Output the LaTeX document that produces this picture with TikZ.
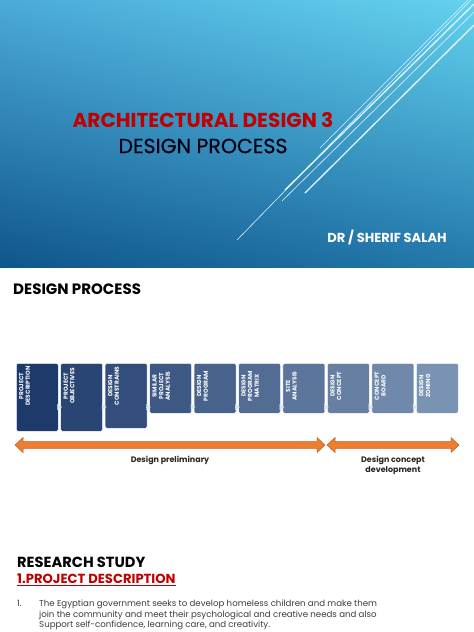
\documentclass[tikz,border=0pt]{standalone}
\usepackage{fontspec}
\setmainfont{Poppins}
\newfontfamily\medfont[FakeBold=0.6]{Poppins}
\usetikzlibrary{calc,arrows.meta,shadings}
\definecolor{tlc}{HTML}{4BAAD7}
\definecolor{trc}{HTML}{64D2F0}
\definecolor{blc}{HTML}{0F558C}
\definecolor{brc}{HTML}{2378AA}
\definecolor{tred}{HTML}{C00000}
\definecolor{boxA}{HTML}{1E3A6B}
\definecolor{boxB}{HTML}{7A93B3}
\definecolor{tricol}{HTML}{DCE3EB}
\definecolor{aorange}{HTML}{ED7D31}
\definecolor{aedge}{HTML}{C0631F}
\definecolor{bodygray}{HTML}{3C3C3C}
\tikzset{
  stepbox/.style={rectangle, rounded corners=1.5bp, draw=white, line width=0.5bp,
    minimum width=42bp, anchor=north west, inner sep=0pt},
  boxtext/.style={rotate=90, anchor=north, align=center, text=white,
    font=\fontsize{5.9}{6.6}\selectfont\bfseries},
  conn/.style={draw=tricol, line width=0.3bp, shorten >=-1.5bp,
    -{Triangle[width=6bp,length=4.5bp]}},
  dlinethin/.style={draw=white!85!cyan, line width=0.6bp, line cap=round},
  dlinethick/.style={draw=white!88!cyan, line width=1.3bp, line cap=round},
  bigarrow/.style={fill=aorange, draw=aedge, line width=0.5bp, line join=miter},
  lbl/.style={font=\fontsize{8}{10}\selectfont\bfseries, text=black!85, align=center},
  bodyline/.style={anchor=base west, text=bodygray, font=\fontsize{8.65}{10}\selectfont},
}
\begin{document}
\begin{tikzpicture}[x=1bp,y=-1bp, every node/.append style={inner sep=0pt}]
\useasboundingbox (0,0) rectangle (474,632);
\fill[white] (0,0) rectangle (474,632);
% top slide
\shade[upper left=tlc, upper right=trc, lower left=blc, lower right=brc] (0,0) rectangle (474,267);
\draw[dlinethin] (237,240) -- (471,0);
\draw[dlinethick] (285,190) -- (474,4);
\draw[dlinethin] (282,201) -- (474,12);
\draw[dlinethick] (305,193) -- (474,25);
\draw[dlinethin] (320,148) -- (468,0);
\node[text=tred, font=\fontsize{20.2}{22}\selectfont\bfseries] (t1) at (203,120) {ARCHITECTURAL DESIGN 3};
\node[text=black!92!blue, font=\fontsize{20.6}{22}\selectfont\medfont] (t2) at (203,146) {DESIGN PROCESS};
\node[text=white, font=\fontsize{13.1}{15}\selectfont\bfseries] (t3) at (387,238) {DR / SHERIF SALAH};
% section header
\node[anchor=west, text=black, font=\fontsize{15.1}{17}\selectfont\bfseries] (h1) at (13,289) {DESIGN PROCESS};
% boxes
\coordinate (ty) at (0,386);
\coordinate (ry) at (0,407);
\foreach \i/\h/\t in {0/68/{PROJECT\\DESCRIPTION},1/68/{PROJECT\\OBJECTIVES},2/65/{DESIGN\\CONSTRAINS},3/50/{SIMILAR\\PROJECT\\ANALYSIS},4/50/{DESIGN\\PROGRAM},5/50/{DESIGN\\PROGRAM\\MATRIX},6/50/{SITE\\ANALYSIS},7/50/{DESIGN\\CONCEPT},8/50/{CONCEPT\\BOARD},9/50/{DESIGN\\ZONING}}{
  \pgfmathsetmacro\bx{16+44.45*\i}
  \pgfmathtruncatemacro\p{100-\i*100/9}
  \node[stepbox, fill=boxA!\p!boxB, minimum height=\h bp] (b\i) at (\bx,363) {};
  \node[boxtext] (bt\i) at ([xshift=3bp]b\i.west |- ty) {\t};
}
\foreach \i in {0,...,8}{
  \pgfmathtruncatemacro\j{\i+1}
  \draw[conn] (b\i.east |- ry) -- (b\j.west |- ry);
}
% orange double arrows
\draw[bigarrow] (15,445) -- (23,437.5) -- (23,441.7) -- (317,441.7) -- (317,437.5) -- (325,445)
  -- (317,452.5) -- (317,448.3) -- (23,448.3) -- (23,452.5) -- cycle;
\draw[bigarrow] (327,445) -- (335,437.5) -- (335,441.7) -- (451,441.7) -- (451,437.5) -- (459,445)
  -- (451,452.5) -- (451,448.3) -- (335,448.3) -- (335,452.5) -- cycle;
\node[lbl] (pre) at (170,460) {Design preliminary};
\node[lbl] (dev) at (393,465.5) {Design concept\\development};
% research study
\node[anchor=west, text=black, font=\fontsize{14.7}{17}\selectfont\bfseries] (h2) at (17,562) {RESEARCH STUDY};
\node[anchor=west, text=tred, font=\fontsize{13.2}{15}\selectfont\bfseries] (h3) at (17,579) {1.PROJECT DESCRIPTION};
\draw[tred, line width=1bp] ([yshift=-2.2bp]h3.base west) -- ([yshift=-2.2bp]h3.base east);
\node[bodyline] (n1) at (17,606) {1.};
\node[bodyline] (l1) at (39,606) {The Egyptian government seeks to develop homeless children and make them};
\node[bodyline] (l2) at (39,617) {join the community and meet their psychological and creative needs and also};
\node[bodyline] (l3) at (39,627) {Support self-confidence, learning care, and creativity.};
\end{tikzpicture}
\end{document}
